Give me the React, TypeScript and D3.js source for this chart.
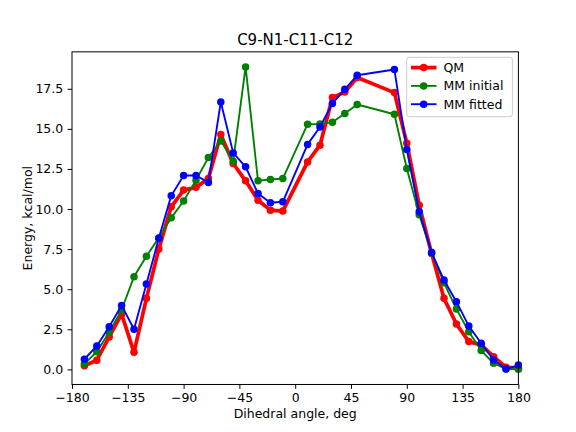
import React, { useEffect, useRef } from 'react';
import * as d3 from 'd3';

// dihedral angles (deg)
const angles = [
  -170, -160, -150, -140, -130, -120, -110, -100, -90, -80, -70, -60, -50, -40, -30, -20, -10,
  10, 20, 30, 40, 50, 80, 90, 100, 110, 120, 130, 140, 150, 160, 170, 180,
];

const qm = [
  0.23, 0.57, 2.02, 3.45, 1.06, 4.43, 7.5, 10.14, 11.18, 11.35, 11.9, 14.65, 12.84, 11.76, 10.55, 9.93, 9.87,
  12.94, 13.98, 16.95, 17.3, 18.2, 17.26, 14.1, 10.24, 7.23, 4.43, 2.83, 1.73, 1.52, 0.79, 0.13, 0.07,
];

const mmInitial = [
  0.34, 1.1, 2.31, 3.7, 5.78, 7.05, 8.2, 9.45, 10.5, 11.8, 13.21, 14.25, 12.98, 18.86, 11.76, 11.84, 11.9,
  15.29, 15.3, 15.41, 15.96, 16.52, 15.91, 12.53, 9.65, 7.27, 5.4, 3.76, 2.35, 1.17, 0.38, 0.02, 0.0,
];

const mmFitted = [
  0.63, 1.46, 2.66, 3.99, 2.5, 5.32, 8.17, 10.82, 12.09, 12.09, 11.66, 16.68, 13.5, 12.63, 10.97, 10.39, 10.45,
  14.03, 15.12, 16.58, 17.47, 18.34, 18.7, 13.71, 9.83, 7.29, 5.57, 4.22, 2.7, 1.63, 0.59, 0.02, 0.27,
];

const xTicks = [-180, -135, -90, -45, 0, 45, 90, 135, 180];
const yTicks = [0, 2.5, 5, 7.5, 10, 12.5, 15, 17.5];

const series = [
  { name: 'QM', values: qm, color: '#ff0000', width: 3.75 },
  { name: 'MM initial', values: mmInitial, color: '#008000', width: 1.875 },
  { name: 'MM fitted', values: mmFitted, color: '#0000ff', width: 1.875 },
];

const Chart: React.FC = () => {
  const svgRef = useRef<SVGSVGElement>(null);

  useEffect(() => {
    document.body.style.margin = '0';
    const width = 576;
    const height = 432;
    const left = 72, right = 518.4, top = 51.84, bottom = 384.48;
    const font = 'DejaVu Sans, sans-serif';

    const svg = d3.select(svgRef.current).attr('width', width).attr('height', height);
    svg.selectAll('*').remove();
    svg.append('rect').attr('width', width).attr('height', height).attr('fill', '#fff');

    const all = [...qm, ...mmInitial, ...mmFitted];
    const lo = d3.min(all) as number;
    const hi = d3.max(all) as number;
    const pad = (hi - lo) * 0.05;

    const x = d3.scaleLinear().domain([-180, 180]).range([left, right]);
    const y = d3.scaleLinear().domain([lo - pad, hi + pad]).range([bottom, top]);

    const line = d3.line<number>()
      .x((_, i) => x(angles[i]))
      .y(d => y(d));

    series.forEach(s => {
      const g = svg.append('g');
      g.append('path')
        .attr('d', line(s.values) as string)
        .attr('fill', 'none')
        .attr('stroke', s.color)
        .attr('stroke-width', s.width)
        .attr('stroke-linejoin', 'round');
      g.selectAll('circle')
        .data(s.values)
        .enter()
        .append('circle')
        .attr('cx', (_, i) => x(angles[i]))
        .attr('cy', d => y(d))
        .attr('r', 3.75)
        .attr('fill', s.color);
    });

    // axes (matplotlib-style unicode minus)
    const minus = (s: string) => s.replace('-', '\u2212');
    const xAxis = svg.append('g')
      .attr('transform', `translate(0,${bottom})`)
      .call(d3.axisBottom(x).tickValues(xTicks).tickSize(4.375).tickPadding(4.4).tickFormat(d => minus(String(d))));
    const yAxis = svg.append('g')
      .attr('transform', `translate(${left},0)`)
      .call(d3.axisLeft(y).tickValues(yTicks).tickSize(4.375).tickPadding(4.4).tickFormat(d3.format('.1f')));
    [xAxis, yAxis].forEach(a => {
      a.select('.domain').remove();
      a.selectAll('line').attr('stroke', '#000').attr('stroke-width', 1);
      a.selectAll('text').attr('font-family', font).attr('font-size', 12.5).attr('fill', '#000');
    });

    svg.append('rect')
      .attr('x', left).attr('y', top)
      .attr('width', right - left).attr('height', bottom - top)
      .attr('fill', 'none').attr('stroke', '#000').attr('stroke-width', 1);

    // title and labels
    svg.append('text')
      .attr('x', (left + right) / 2).attr('y', 45)
      .attr('text-anchor', 'middle')
      .attr('font-family', font).attr('font-size', 15)
      .text('C9-N1-C11-C12');
    svg.append('text')
      .attr('x', (left + right) / 2).attr('y', 418)
      .attr('text-anchor', 'middle')
      .attr('font-family', font).attr('font-size', 12.5)
      .text('Dihedral angle, deg');
    svg.append('text')
      .attr('transform', `translate(32,${(top + bottom) / 2}) rotate(-90)`)
      .attr('text-anchor', 'middle')
      .attr('font-family', font).attr('font-size', 12.5)
      .text('Energy, kcal/mol');

    // legend
    const lg = svg.append('g');
    lg.append('rect')
      .attr('x', 406.7).attr('y', 57.3).attr('width', 105.7).attr('height', 59.4)
      .attr('rx', 2.5)
      .attr('fill', '#fff').attr('fill-opacity', 0.8)
      .attr('stroke', '#cccccc').attr('stroke-width', 1);
    series.forEach((s, i) => {
      const ly = 67.6 + i * 18.3;
      lg.append('line')
        .attr('x1', 411).attr('x2', 436.5).attr('y1', ly).attr('y2', ly)
        .attr('stroke', s.color).attr('stroke-width', s.width);
      lg.append('circle').attr('cx', 423.7).attr('cy', ly).attr('r', 3.75).attr('fill', s.color);
      lg.append('text')
        .attr('x', 443.5).attr('y', ly + 4.5)
        .attr('font-family', font).attr('font-size', 12.5)
        .text(s.name);
    });
  }, []);

  return <svg ref={svgRef}></svg>;
};

const App: React.FC = () => {
  return (
    <div style={{ width: 576, height: 432 }}>
      <Chart />
    </div>
  );
};

export default App;
